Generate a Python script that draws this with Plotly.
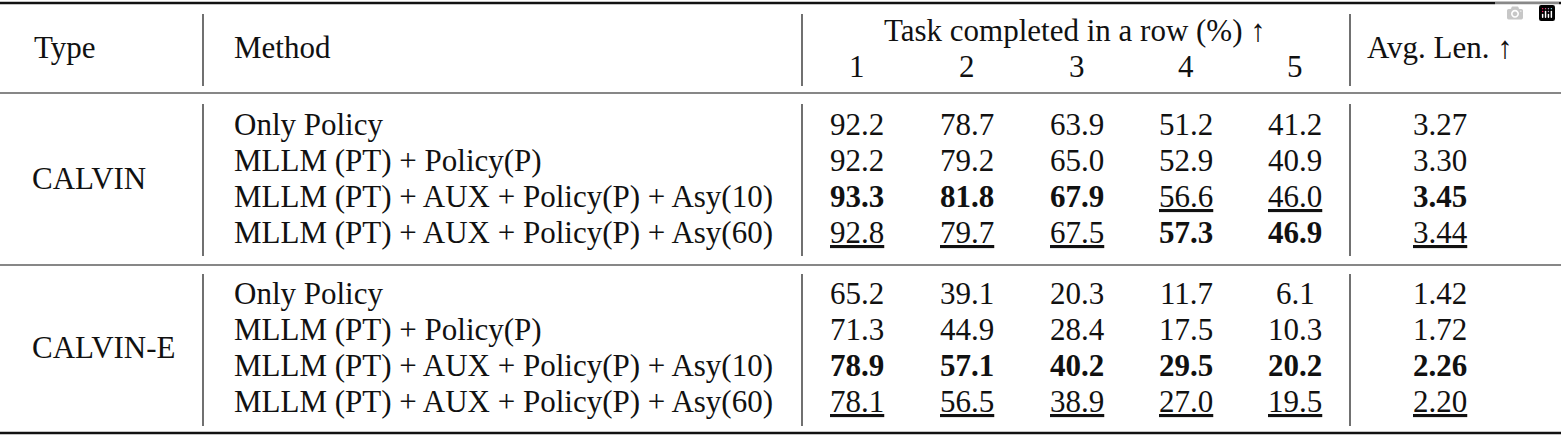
import plotly.graph_objects as go

groups = ["CALVIN", "CALVIN-E"]
methods = ["Only Policy", "MLLM (PT) + Policy(P)",
           "MLLM (PT) + AUX + Policy(P) + Asy(10)",
           "MLLM (PT) + AUX + Policy(P) + Asy(60)"]
steps = ["1", "2", "3", "4", "5"]
calvin = [[92.2, 78.7, 63.9, 51.2, 41.2, 3.27],
          [92.2, 79.2, 65.0, 52.9, 40.9, 3.30],
          [93.3, 81.8, 67.9, 56.6, 46.0, 3.45],
          [92.8, 79.7, 67.5, 57.3, 46.9, 3.44]]
calvin_e = [[65.2, 39.1, 20.3, 11.7, 6.1, 1.42],
            [71.3, 44.9, 28.4, 17.5, 10.3, 1.72],
            [78.9, 57.1, 40.2, 29.5, 20.2, 2.26],
            [78.1, 56.5, 38.9, 27.0, 19.5, 2.20]]
# 'b' = best, 'u' = second best
calvin_mark = [["", "", "", "", "", ""], ["", "", "", "", "", ""],
               ["b", "b", "b", "u", "u", "b"], ["u", "u", "u", "b", "b", "u"]]
calvin_e_mark = [["", "", "", "", "", ""], ["", "", "", "", "", ""],
                 ["b"] * 6, ["u"] * 6]

FONT = dict(family="Liberation Serif, Times New Roman, serif", size=31, color="#111")
W, H = 1561, 436
col_x = [857, 967, 1077, 1186, 1295, 1440]
fig = go.Figure()
ann = []

def txt(x, y, s, anchor="center"):
    ann.append(dict(x=x, y=y, text=s, showarrow=False, xanchor=anchor,
                    yanchor="middle", font=FONT))

txt(32, 47, "Type", "left")
txt(232, 47, "Method", "left")
txt(1075, 30, "Task completed in a row (%) ↑")
for i, s in enumerate(steps):
    txt(col_x[i], 66, s)
txt(1440, 47, "Avg. Len. ↑")

def fmt(v, k, m):
    s = f"{v:.2f}" if k == 5 else f"{v:.1f}"
    if m == "b":
        return f"<b>{s}</b>"
    if m == "u":
        return f"<u>{s}</u>"
    return s

for g, (vals, marks, y0) in enumerate([(calvin, calvin_mark, 124), (calvin_e, calvin_e_mark, 293)]):
    txt(30, y0 + 54, groups[g], "left")
    for r, m in enumerate(methods):
        y = y0 + 36 * r
        txt(232, y, m, "left")
        for k, v in enumerate(vals[r]):
            txt(col_x[k], y, fmt(v, k, marks[r][k]))

shapes = []
for y, w in [(3, 2.5), (93, 1.2), (265, 1.2), (433, 2.5)]:
    shapes.append(dict(type="line", x0=0, x1=W, y0=y, y1=y, line=dict(color="#111", width=w)))
for x in [203, 802, 1350]:
    for a, b in [(14, 86), (104, 256), (274, 426)]:
        shapes.append(dict(type="line", x0=x, x1=x, y0=a, y1=b, line=dict(color="#111", width=1.2)))

fig.update_layout(width=W, height=H, margin=dict(l=0, r=0, t=0, b=0),
                  plot_bgcolor="white", paper_bgcolor="white",
                  xaxis=dict(range=[0, W], visible=False, fixedrange=True),
                  yaxis=dict(range=[H, 0], visible=False, fixedrange=True),
                  annotations=ann, shapes=shapes, showlegend=False)
fig.write_html("out.html", post_script="document.body.style.margin='0';")
